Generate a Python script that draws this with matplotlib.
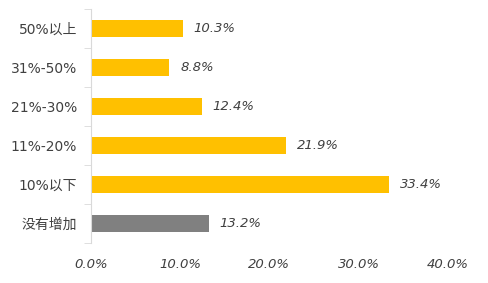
import matplotlib.pyplot as plt
import numpy as np

plt.rcParams['font.family'] = ['DejaVu Sans', 'Noto Sans CJK SC']

categories = ['没有增加', '10%以下', '11%-20%', '21%-30%', '31%-50%', '50%以上']
values = [13.2, 33.4, 21.9, 12.4, 8.8, 10.3]
colors = ['#808080', '#FFC000', '#FFC000', '#FFC000', '#FFC000', '#FFC000']
xticks = [0, 10, 20, 30, 40]

fig = plt.figure(figsize=(4.88, 2.83), dpi=100)
ax = fig.add_axes([0.186, 0.141, 0.732, 0.827])

y = np.arange(len(categories))
ax.barh(y, values, height=0.44, color=colors)
for yi, v in zip(y, values):
    ax.text(v + 1.2, yi, '%.1f%%' % v, va='center', ha='left', fontsize=9.5,
            color='#404040', style='italic')

ax.set_xlim(0, 40)
ax.set_ylim(-0.5, len(categories) - 0.5)
ax.set_xticks(xticks)
ax.set_xticklabels(['%.1f%%' % t for t in xticks], fontsize=9.5, color='#404040', style='italic')
ax.tick_params(axis='x', length=0, pad=11)

ax.set_yticks(y)
ax.set_yticklabels(categories, fontsize=10, color='#404040')
ax.tick_params(axis='y', which='major', length=0, pad=10)
ax.set_yticks(np.arange(-0.5, len(categories), 1), minor=True)
ax.tick_params(axis='y', which='minor', length=5, color='#d9d9d9')

for s in ['top', 'right', 'bottom']:
    ax.spines[s].set_visible(False)
ax.spines['left'].set_color('#d9d9d9')

fig.savefig('out.png', dpi=100)
